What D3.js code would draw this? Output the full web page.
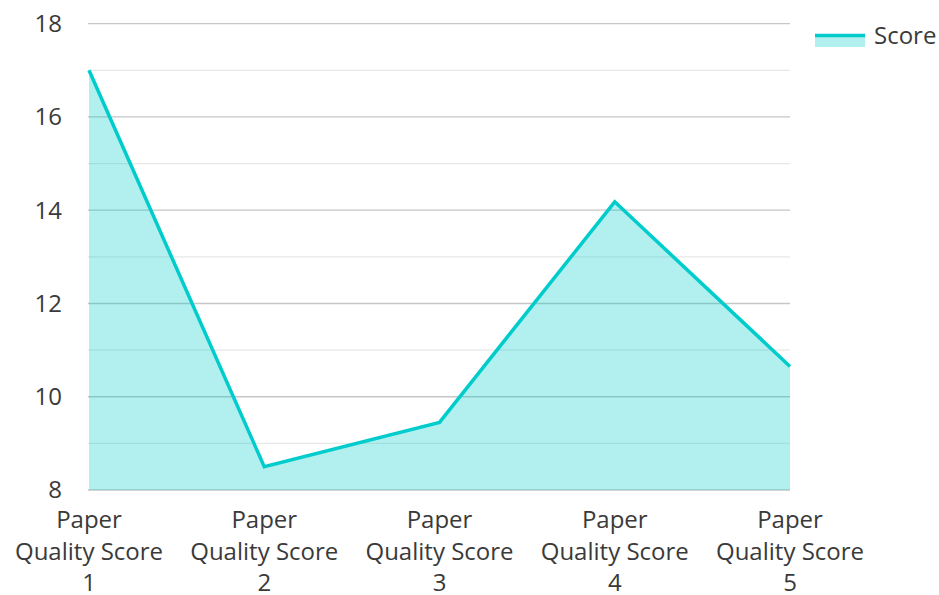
<!DOCTYPE html>
<html>
<head>
<meta charset="utf-8">
<script src="https://cdn.jsdelivr.net/npm/d3@7"></script>
<style>
  body { margin: 0; background: #fff; }
  text { font-family: "Open Sans", sans-serif; fill: #3a3a3a; }
</style>
</head>
<body>
<svg id="chart" width="939" height="595"></svg>
<script>
var categories = ["Paper Quality Score 1", "Paper Quality Score 2", "Paper Quality Score 3", "Paper Quality Score 4", "Paper Quality Score 5"];
var labelLines = [["Paper", "Quality Score", "1"], ["Paper", "Quality Score", "2"], ["Paper", "Quality Score", "3"], ["Paper", "Quality Score", "4"], ["Paper", "Quality Score", "5"]];
var scores = [17, 8.5, 9.45, 14.18, 10.65];
var yTicks = [8, 10, 12, 14, 16, 18];
var seriesName = "Score";

var svg = d3.select('#chart');
var color = "#00cccc";

var x = d3.scalePoint().domain(categories).range([89, 790]);
var y = d3.scaleLinear().domain([8, 18]).range([490, 23.7]);

// gridlines (minor first, then major)
var minor = d3.range(9, 18, 2);
svg.append("g").selectAll("line").data(minor).enter().append("line")
  .attr("x1", 88).attr("x2", 790)
  .attr("y1", function(d) { return y(d); }).attr("y2", function(d) { return y(d); })
  .attr("stroke", "#e8e8e8").attr("stroke-width", 1.3);
svg.append("g").selectAll("line").data(yTicks).enter().append("line")
  .attr("x1", 88).attr("x2", 790)
  .attr("y1", function(d) { return y(d); }).attr("y2", function(d) { return y(d); })
  .attr("stroke", "#c6c6c6").attr("stroke-width", 1.3);

// y labels
svg.append("g").selectAll("text").data(yTicks).enter().append("text")
  .attr("x", 62).attr("y", function(d) { return y(d); })
  .attr("dy", "0.35em").attr("text-anchor", "end")
  .attr("font-size", 24)
  .text(function(d) { return d; });

// x labels
var xl = svg.append("g").selectAll("text").data(categories).enter().append("text")
  .attr("text-anchor", "middle").attr("font-size", 24);
xl.each(function(d, i) {
  var t = d3.select(this);
  labelLines[i].forEach(function(s, j) {
    t.append("tspan").attr("x", x(d)).attr("y", 528 + j * 31.5).text(s);
  });
});

// area + line
var pts = categories.map(function(c, i) { return [x(c), y(scores[i])]; });
var area = d3.area().x(function(d) { return d[0]; }).y0(y(8)).y1(function(d) { return d[1]; });
var line = d3.line().x(function(d) { return d[0]; }).y(function(d) { return d[1]; });

svg.append("path").datum(pts).attr("d", area)
  .attr("fill", color).attr("fill-opacity", 0.3);
svg.append("path").datum(pts).attr("d", line)
  .attr("fill", "none").attr("stroke", color).attr("stroke-width", 3.5)
  .attr("stroke-linejoin", "miter");

// legend
var lg = svg.append("g");
lg.append("rect").attr("x", 815).attr("y", 35).attr("width", 50).attr("height", 12)
  .attr("fill", color).attr("fill-opacity", 0.3);
lg.append("line").attr("x1", 815).attr("x2", 865).attr("y1", 35.5).attr("y2", 35.5)
  .attr("stroke", color).attr("stroke-width", 3.5);
lg.append("text").attr("x", 874).attr("y", 36).attr("dy", "0.35em")
  .attr("font-size", 24).text(seriesName);
</script>
</body>
</html>
